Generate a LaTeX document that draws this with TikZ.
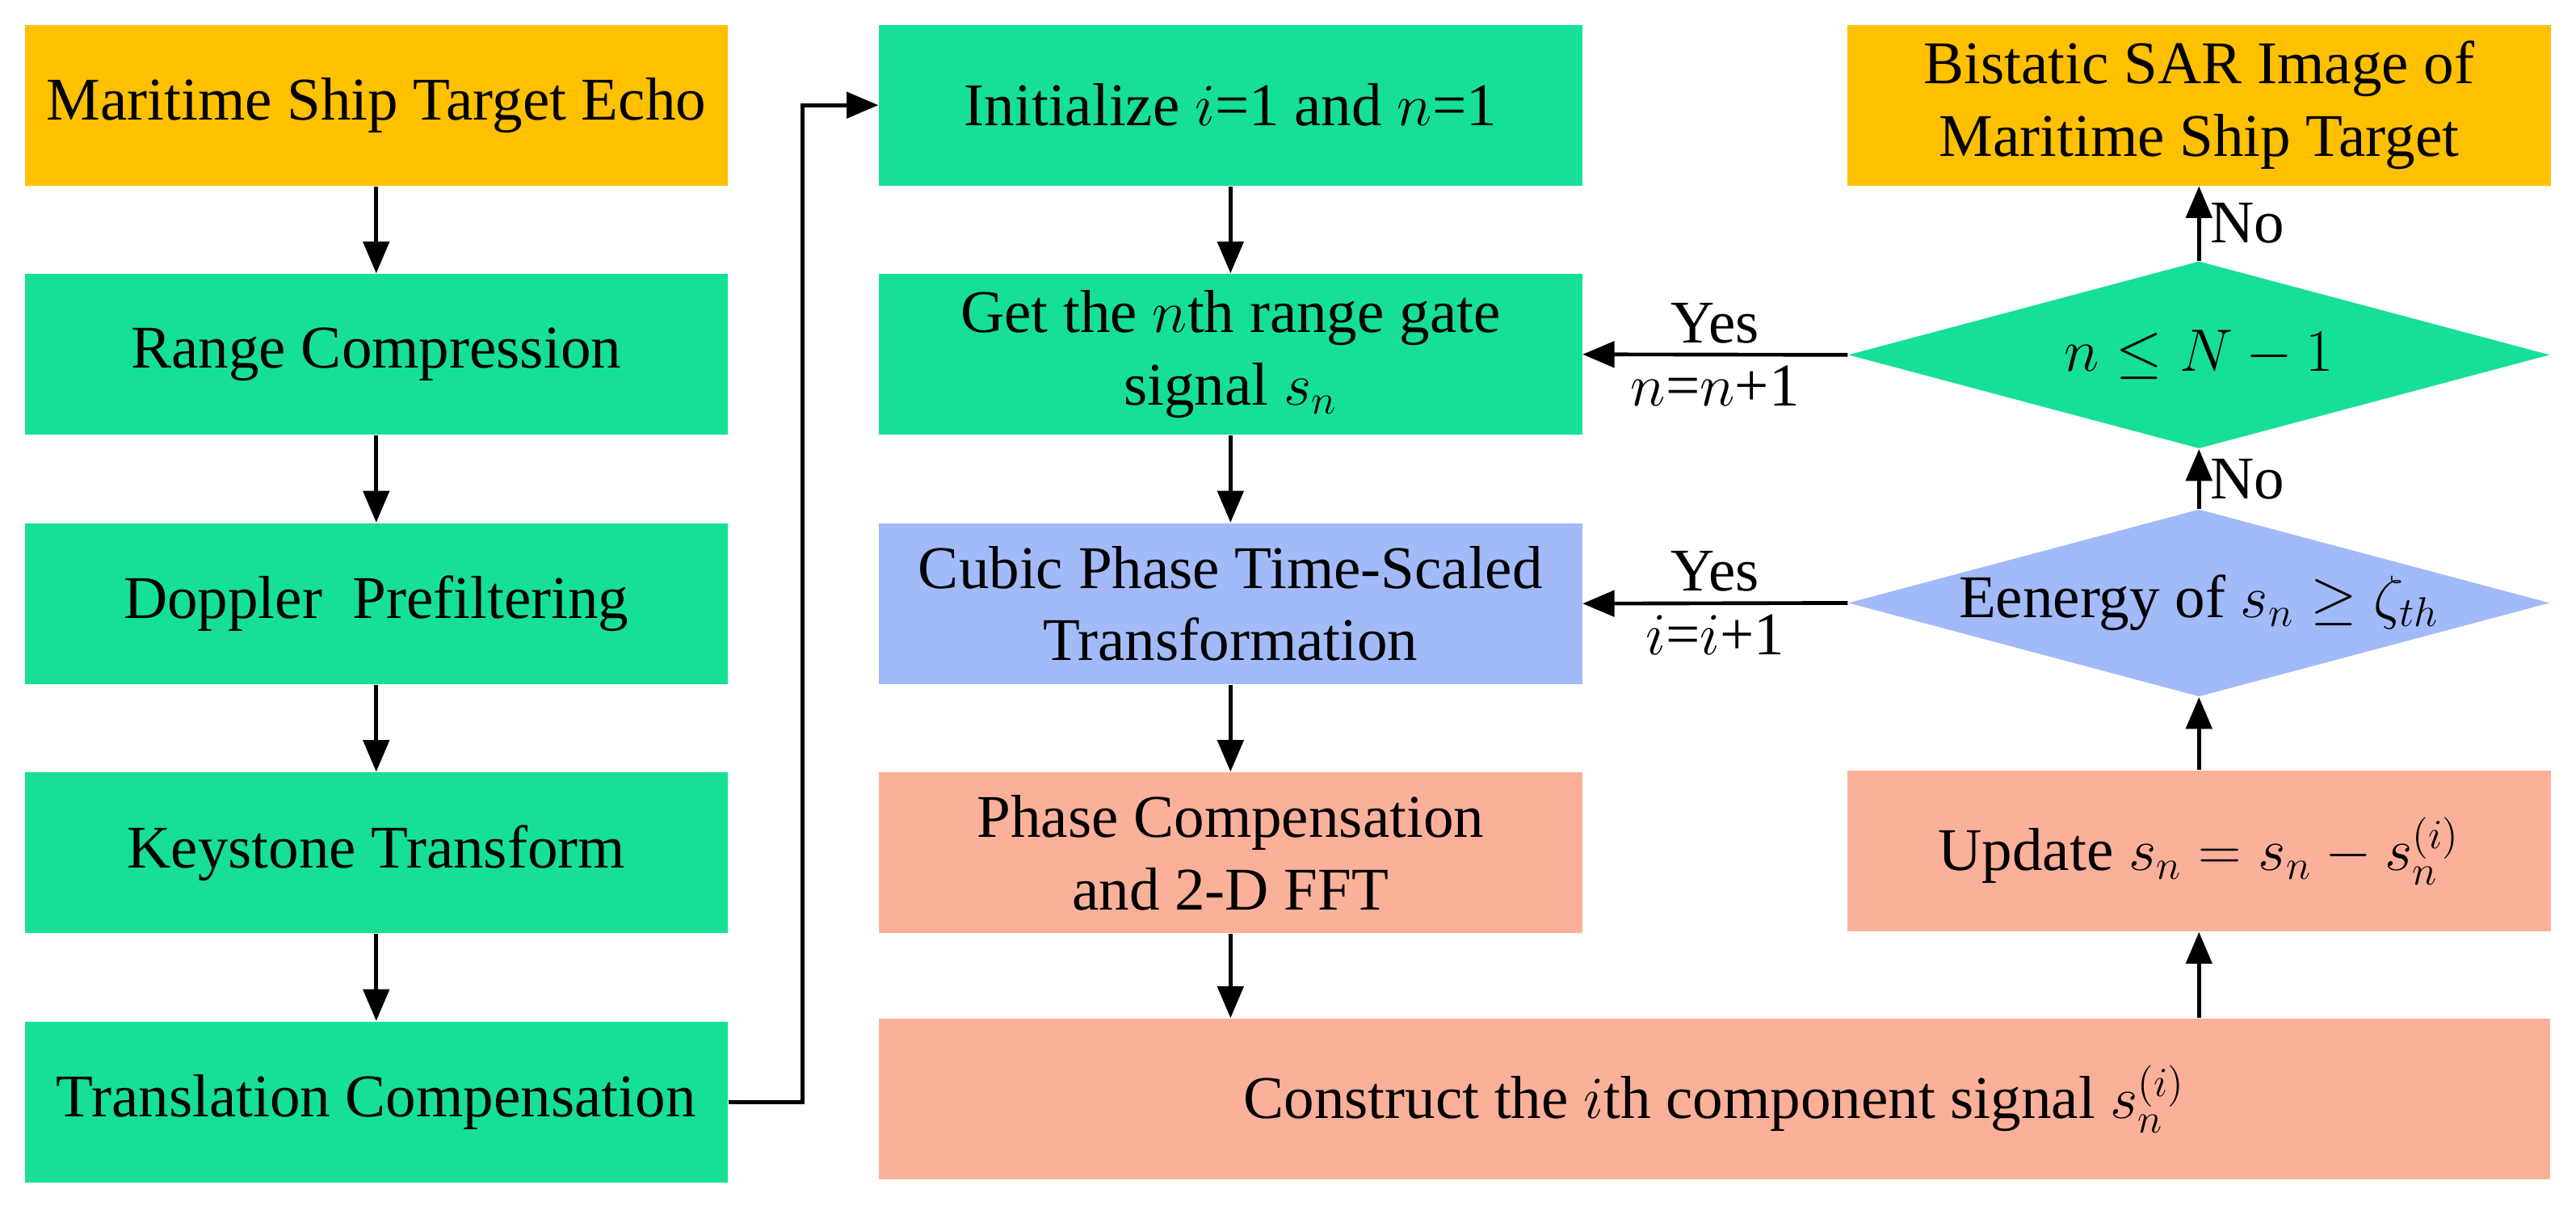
\documentclass[tikz,border=0pt]{standalone}
\usepackage{fontspec}
\setmainfont{Liberation Serif}
\usetikzlibrary{shapes.geometric, arrows.meta, positioning}
\definecolor{echo}{HTML}{FFC000}
\definecolor{grn}{HTML}{16E096}
\definecolor{blu}{HTML}{A3BAF8}
\definecolor{sal}{HTML}{FBB09A}
\tikzstyle{box} = [rectangle, minimum width=8.56cm, minimum height=1.96cm, text centered, align=center, inner sep=0pt, font=\rmfamily\fontsize{21}{25}\selectfont]
\tikzstyle{startstop} = [box, fill=echo]
\tikzstyle{process} = [box, fill=grn]
\tikzstyle{scaled} = [box, fill=blu]
\tikzstyle{comp} = [box, fill=sal]
\tikzstyle{decision} = [diamond, minimum width=8.54cm, minimum height=2.28cm, inner sep=0pt, shape aspect=3.75]
\tikzstyle{arrow} = [line width=1.3pt, -{Triangle[length=11pt,width=9pt]}]
\tikzstyle{lbl} = [font=\rmfamily\fontsize{21}{25}\selectfont]

\begin{document}
\begin{tikzpicture}[node distance=1.06cm]
\useasboundingbox (0,0) rectangle (31.36,-14.68);
% left column
\node (echo) [startstop] at (4.58,-1.28) {Maritime Ship Target Echo};
\node (rc) [process, below=of echo] {Range Compression};
\node (dp) [process, below=of rc] {Doppler\ \ Prefiltering};
\node (kt) [process, below=of dp] {Keystone Transform};
\node (tc) [process, below=of kt] {Translation Compensation};
% middle column
\node (init) [process] at (14.98,-1.28) {Initialize $i$=1 and $n$=1};
\node (gate) [process, below=of init] {Get the $n$th range gate\\signal $s_n$};
\node (cpt) [scaled, below=of gate] {Cubic Phase Time-Scaled\\Transformation};
\node (pc) [comp, below=of cpt] {Phase Compensation\\and 2-D FFT};
\node (cons) [comp, minimum width=20.34cm] at (20.87,-13.38) {Construct the $i$th component signal $s_n^{(i)}$};
% right column
\node (sar) [startstop] at (26.77,-1.28) {Bistatic SAR Image of\\Maritime Ship Target};
\node (d1) [decision, fill=grn] at (26.77,-4.32) {};
\node [lbl] at (d1) {$n \le N-1$};
\node (d2) [decision, fill=blu] at (26.77,-7.34) {};
\node [lbl] at (d2) {Eenergy of $s_n \ge \zeta_{th}$};
\node (upd) [comp] at (26.77,-10.36) {Update $s_n = s_n - s_n^{(i)}$};

\draw [arrow] (echo) -- (rc);
\draw [arrow] (rc) -- (dp);
\draw [arrow] (dp) -- (kt);
\draw [arrow] (kt) -- (tc);
\draw [arrow] (tc.east) -- ++(0.9,0) |- (init.west);
\draw [arrow] (init) -- (gate);
\draw [arrow] (gate) -- (cpt);
\draw [arrow] (cpt) -- (pc);
\draw [arrow] (pc) -- (pc |- cons.north);
\draw [arrow] (upd |- cons.north) -- (upd);
\draw [arrow] (upd) -- (d2);
\draw [arrow] (d2) -- node [lbl, right] {No} (d1);
\draw [arrow] (d1) -- node [lbl, right] {No} (sar);
\draw [arrow] (d1.west) -- node [lbl, above] {Yes} node [lbl, below] {$n$=$n$+1} (gate.east);
\draw [arrow] (d2.west) -- node [lbl, above] {Yes} node [lbl, below] {$i$=$i$+1} (cpt.east);
\end{tikzpicture}
\end{document}
